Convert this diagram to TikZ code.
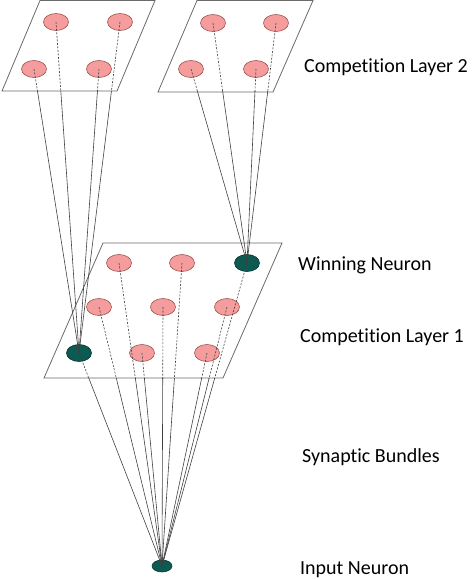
\documentclass[tikz,border=0pt]{standalone}
\usepackage{fontspec}
\setmainfont[Ligatures=NoCommon]{Carlito}
\usetikzlibrary{positioning}
\usetikzlibrary{shapes.geometric}

\definecolor{cellpink}{HTML}{F59C9C}
\definecolor{celledge}{HTML}{A05454}
\definecolor{winteal}{HTML}{0C5A52}
\definecolor{wiregray}{HTML}{404040}
\definecolor{planegray}{HTML}{6A6A6A}

\begin{document}
\begin{tikzpicture}[x=1pt,y=-1pt,
    cell/.style={ellipse, draw=celledge, fill=cellpink, line width=0.6pt,
                 minimum width=25pt, minimum height=17pt, inner sep=0pt},
    wincell/.style={cell, draw=winteal!60!black, fill=winteal},
    plane/.style={draw=planegray, line width=0.8pt},
    wire/.style={draw=wiregray, line width=0.6pt},
    dwire/.style={wire, dash pattern=on 2pt off 1.5pt},
    tag/.style={anchor=west, inner sep=0pt, font=\fontsize{20}{23}\selectfont}]

        \useasboundingbox (0,0) rectangle (474,579);

        % planes
        \draw[plane] (40,0.5) -- (155,0.5) -- (117,91) -- (2,91) -- cycle;
        \draw[plane] (197,0.5) -- (313,0.5) -- (273,92) -- (158,92) -- cycle;
        \draw[plane] (103,243) -- (282,243) -- (223,378) -- (44,378) -- cycle;

        % competition layer 2
        \node[cell] (a1) at (56,22) {};
        \node[cell] (a2) at (120,22) {};
        \node[cell] (a3) at (34,69) {};
        \node[cell] (a4) at (99,69) {};

        \node[cell] (b1) at (213,23) {};
        \node[cell] (b2) at (276,23) {};
        \node[cell] (b3) at (191,69) {};
        \node[cell] (b4) at (256,69) {};

        % competition layer 1
        \node[cell] (c1) at (119,263) {};
        \node[cell] (c2) at (182,263) {};
        \node[wincell] (c3) at (247,263) {};
        \node[cell] (c4) at (99,307) {};
        \node[cell] (c5) at (163,307) {};
        \node[cell] (c6) at (227,307) {};
        \node[wincell] (c7) at (79,353) {};
        \node[cell] (c8) at (142,353) {};
        \node[cell] (c9) at (207,353) {};

        % input neuron
        \node[wincell, minimum width=20pt, minimum height=12pt] (in) at (162,566) {};

        % bundles, dashed on the plane and solid below it
        \begin{scope}
            \clip (0,0) rectangle (474,91);
            \foreach \n in {a1,a2,a3,a4} \draw[dwire] (\n.center) -- (c7.center);
            \foreach \n in {b1,b2,b3,b4} \draw[dwire] (\n.center) -- (c3.center);
        \end{scope}
        \begin{scope}
            \clip (0,91) rectangle (474,579);
            \foreach \n in {a1,a2,a3,a4} \draw[wire] (\n.center) -- (c7.center);
            \foreach \n in {b1,b2,b3,b4} \draw[wire] (\n.center) -- (c3.center);
        \end{scope}
        \begin{scope}
            \clip (0,200) rectangle (474,378);
            \foreach \n in {c1,c2,c3,c4,c5,c6,c7,c8,c9} \draw[dwire] (\n.center) -- (in.center);
        \end{scope}
        \begin{scope}
            \clip (0,378) rectangle (474,579);
            \foreach \n in {c1,c2,c3,c4,c5,c6,c7,c8,c9} \draw[wire] (\n.center) -- (in.center);
        \end{scope}

        % labels
        \node[tag] (t1) at (304,67) {Competition Layer 2};
        \node[tag] (t2) at (298,265) {Winning Neuron};
        \node[tag] (t3) at (300,337) {Competition Layer 1};
        \node[tag] (t4) at (302,457) {Synaptic Bundles};
        \node[tag] (t5) at (300,570) {Input Neuron};
    \end{tikzpicture}
\end{document}
